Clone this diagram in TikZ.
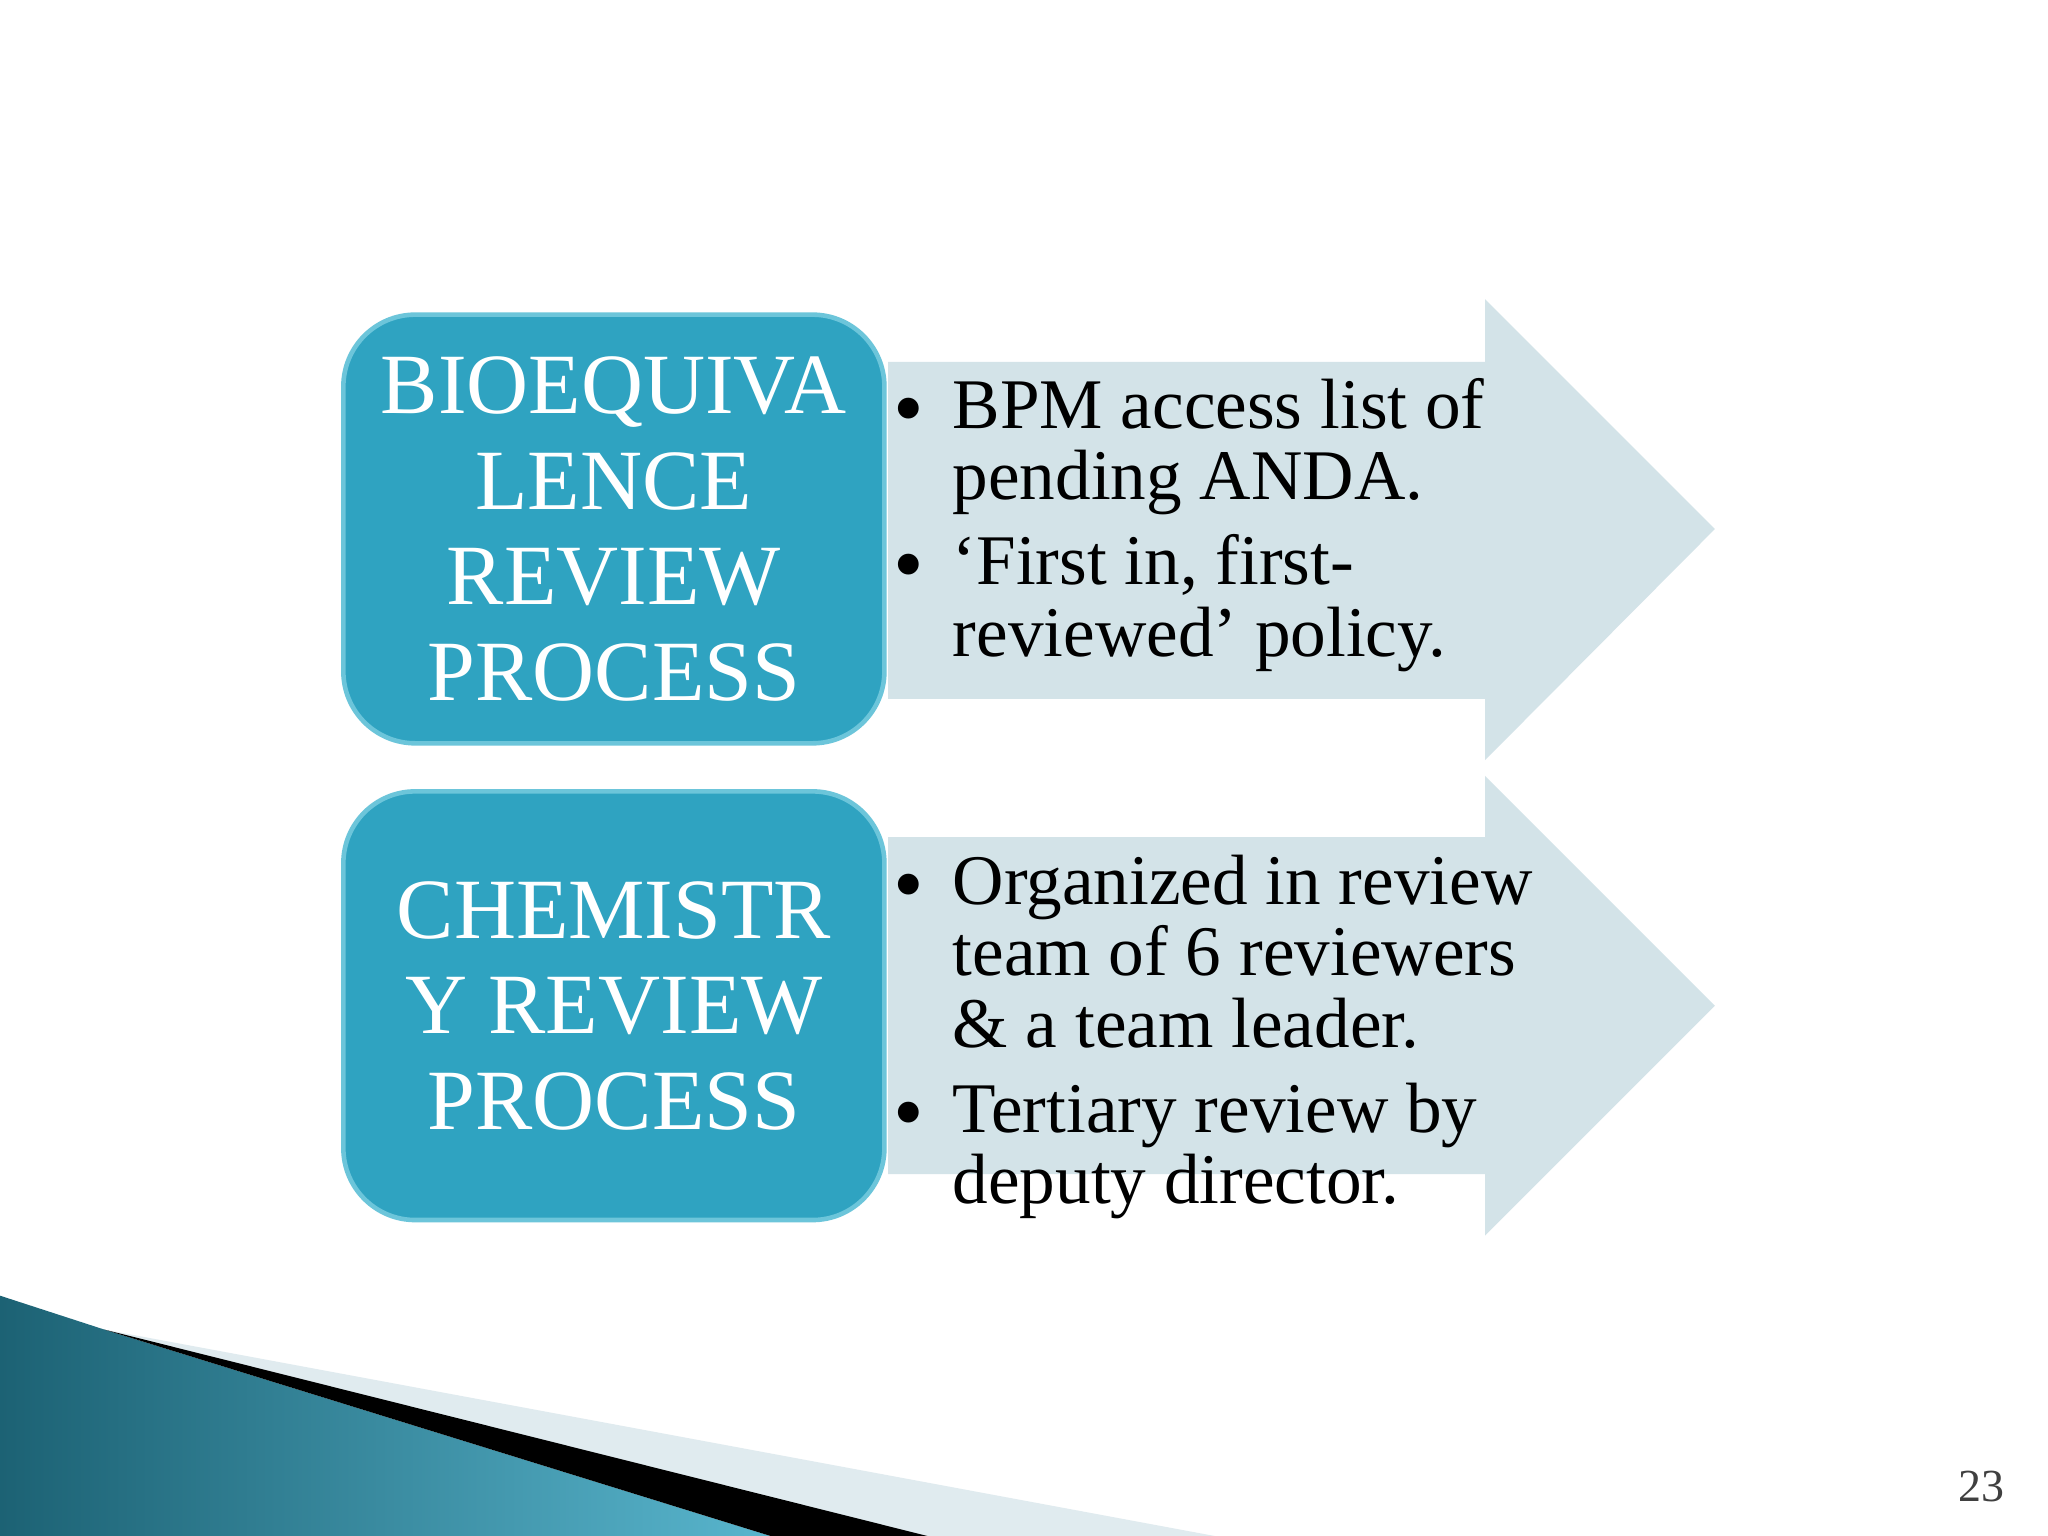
\documentclass[tikz,border=0pt]{standalone}
\usepackage{fontspec}
\setmainfont{Liberation Serif}
\usetikzlibrary{shadings}
\definecolor{arrowc}{HTML}{D3E3E8}
\definecolor{boxc}{HTML}{2FA3C1}
\definecolor{boxb}{HTML}{6CC5DA}
\newcommand{\mybul}{\makebox[0.45cm][l]{\raisebox{-0.07cm}{\fontsize{19}{15}\selectfont\textbullet}}}
\newcommand{\myind}{\hspace*{0.45cm}}
\begin{document}
\begin{tikzpicture}[x=0.01cm,y=-0.01cm,
  bigarrow/.style={fill=arrowc,draw=none},
  stagebox/.style={fill=boxc,draw=boxb,line width=1pt,rounded corners=0.55cm},
  boxtext/.style={text=white,align=center,font=\fontsize{18.7}{20.8}\selectfont},
  bullettext/.style={text=black,align=left,anchor=north west,font=\fontsize{15.5}{15.6}\selectfont}]
\useasboundingbox (0,0) rectangle (1568,1176);
\fill[white] (0,0) rectangle (1568,1176);
% arrows
\fill[bigarrow] (680,277) -- (1137,277) -- (1137,229) -- (1313,405) -- (1137,582) -- (1137,535) -- (680,535) -- cycle;
\fill[bigarrow] (680,641) -- (1137,641) -- (1137,594) -- (1313,770) -- (1137,946) -- (1137,899) -- (680,899) -- cycle;
% boxes
\node[stagebox,minimum width=4.14cm,minimum height=3.28cm] (b1) at (470,405) {};
\node[boxtext] (t1) at (470,405) {BIOEQUIVA\\LENCE\\REVIEW\\PROCESS};
\node[stagebox,minimum width=4.14cm,minimum height=3.28cm] (b2) at (470,770) {};
\node[boxtext] (t2) at (470,770) {CHEMISTR\\Y REVIEW\\PROCESS};
% bullets
\node[bullettext] (l1) at (672,277) {\mybul BPM access list of\\\myind pending ANDA.\\[0.1cm]\mybul ‘First in, first-\\\myind reviewed’ policy.};
\node[bullettext] (l2) at (672,642) {\mybul Organized in review\\\myind team of 6 reviewers\\\myind \& a team leader.\\[0.1cm]\mybul Tertiary review by\\\myind deputy director.};
% bottom decoration
\fill[arrowc!70!white] (80,1018) -- (930,1176) -- (640,1176) -- cycle;
\shade[left color=boxc!60!black,right color=boxc!80!white] (0,992) -- (80,1018) -- (590,1176) -- (0,1176) -- cycle;
\fill[black] (80,1018) -- (710,1176) -- (590,1176) -- cycle;
\node[text=black!75,font=\fontsize{10}{10}\selectfont] (pg) at (1517,1138) {23};
\end{tikzpicture}
\end{document}
